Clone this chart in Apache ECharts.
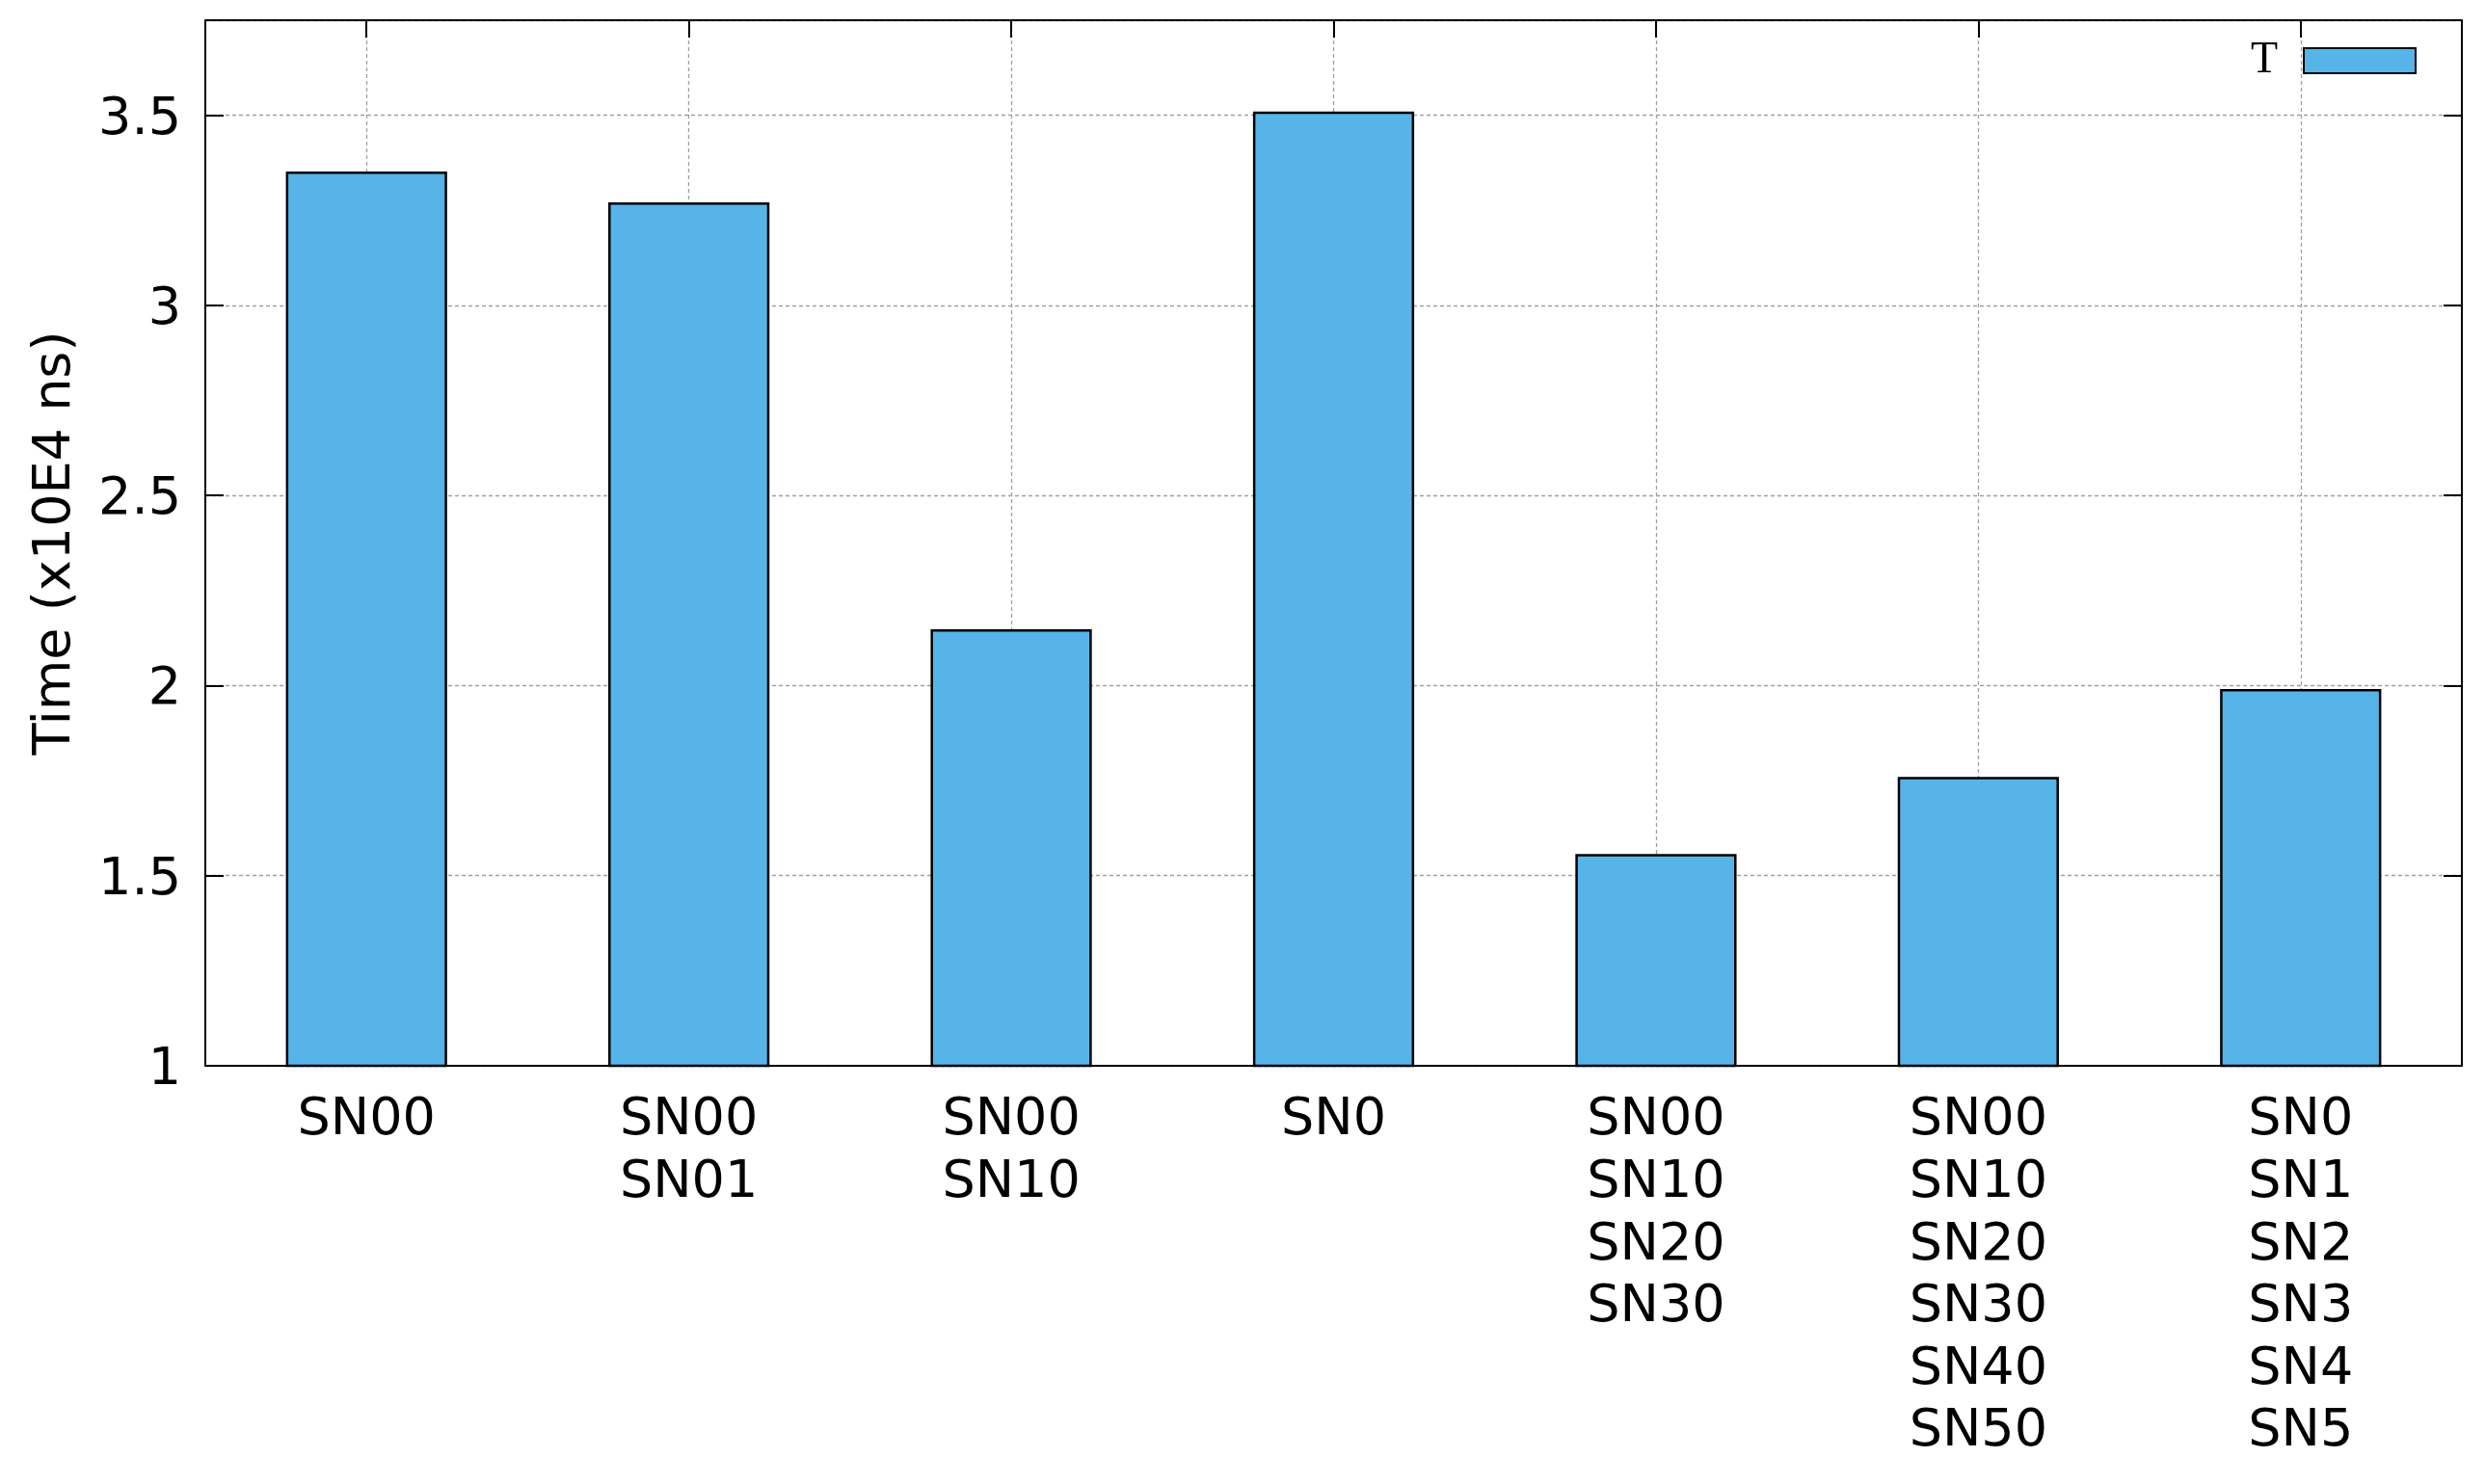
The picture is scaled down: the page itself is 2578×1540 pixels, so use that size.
<!DOCTYPE html>
<html>
<head>
<meta charset="utf-8">
<script src="https://cdn.jsdelivr.net/npm/echarts@6/dist/echarts.min.js"></script>
<style>
html,body{margin:0;padding:0;background:#fff;}
#chart{width:2578px;height:1540px;}
</style>
</head>
<body>
<div id="chart"></div>
<script>
const categories = [
  "SN00",
  "SN00\nSN01",
  "SN00\nSN10",
  "SN0",
  "SN00\nSN10\nSN20\nSN30",
  "SN00\nSN10\nSN20\nSN30\nSN40\nSN50",
  "SN0\nSN1\nSN2\nSN3\nSN4\nSN5"
];
const seriesName = "T";
const values = [3.352, 3.271, 2.148, 3.510, 1.557, 1.760, 1.991];
const yMin = 1, yMax = 3.75, yInterval = 0.5;
const yTitle = "Time (x10E4 ns)";

const chart = echarts.init(document.getElementById('chart'), null, {renderer: 'canvas'});
const font = "DejaVu Sans";
const gridLine = {show: true, lineStyle: {color: '#a0a0a0', width: 1.3, type: [4, 3]}};
chart.setOption({
  backgroundColor: '#ffffff',
  animation: false,
  textStyle: {fontFamily: font, color: '#000'},
  grid: {left: 213, right: 24, top: 21, bottom: 434, containLabel: false},
  legend: {
    data: [{name: seriesName, icon: 'rect'}],
    right: 71, top: 40, padding: 0,
    align: 'right',
    itemWidth: 116, itemHeight: 26,
    textStyle: {fontFamily: 'Liberation Serif', fontSize: 46, color: '#000', padding: [0, 22, 0, 0]}
  },
  xAxis: [
    {
      type: 'category', data: categories, position: 'bottom',
      axisLine: {lineStyle: {color: '#000', width: 2}},
      axisTick: {show: true, inside: true, length: 18, alignWithLabel: true, lineStyle: {color: '#000', width: 2}},
      axisLabel: {fontFamily: font, fontSize: 54, color: '#000', lineHeight: 64.6, margin: 25, interval: 0},
      splitLine: Object.assign({alignWithLabel: true, interval: 0}, gridLine)
    },
    {
      type: 'category', data: categories, position: 'top',
      axisLine: {show: true, lineStyle: {color: '#000', width: 2}},
      axisTick: {show: true, inside: true, length: 18, alignWithLabel: true, lineStyle: {color: '#000', width: 2}},
      axisLabel: {show: false},
      splitLine: {show: false}
    }
  ],
  yAxis: [
    {
      type: 'value', min: yMin, max: yMax, interval: yInterval, position: 'left',
      name: yTitle, nameLocation: 'middle', nameGap: 128,
      nameTextStyle: {fontFamily: font, fontSize: 54, color: '#000'},
      axisLine: {show: true, lineStyle: {color: '#000', width: 2}},
      axisTick: {show: true, inside: true, length: 19, lineStyle: {color: '#000', width: 2}},
      axisLabel: {
        margin: 25, showMaxLabel: false,
        formatter: function (v) { return '{t|' + v + '}'; },
        rich: {t: {fontFamily: font, fontSize: 54, color: '#000', padding: [10, 0, 0, 0]}}
      },
      splitLine: gridLine
    },
    {
      type: 'value', min: yMin, max: yMax, interval: yInterval, position: 'right',
      axisLine: {show: true, lineStyle: {color: '#000', width: 2}},
      axisTick: {show: true, inside: true, length: 19, lineStyle: {color: '#000', width: 2}},
      axisLabel: {show: false},
      splitLine: {show: false}
    }
  ],
  series: [{
    name: seriesName, type: 'bar', data: values, barWidth: '50%',
    xAxisIndex: 0, yAxisIndex: 0,
    itemStyle: {color: '#56B4E9', borderColor: '#000', borderWidth: 2.5}
  }]
});
</script>
</body>
</html>
